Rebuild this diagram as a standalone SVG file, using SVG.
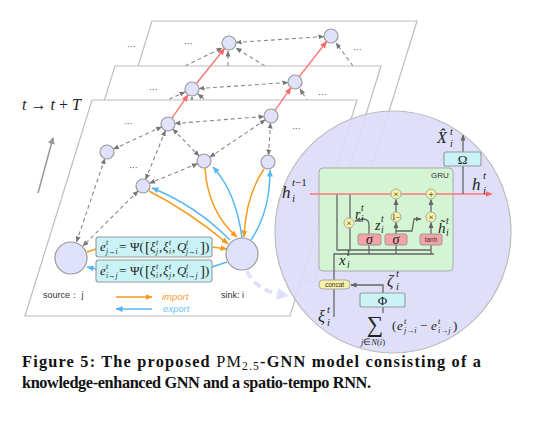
<svg xmlns="http://www.w3.org/2000/svg" width="554" height="432" viewBox="0 0 554 432">
<defs>
<style>
.plane{fill:#fff;stroke:#bdbdbd;stroke-width:1.2}
.node{fill:#dfe2fa;stroke:#9a9a9a;stroke-width:1.2}
.dash{fill:none;stroke:#888;stroke-width:1.1;stroke-dasharray:4 3;marker-start:url(#ag);marker-end:url(#ag)}
.dash1{fill:none;stroke:#888;stroke-width:1.1;stroke-dasharray:4 3;marker-end:url(#ag)}
.red{fill:none;stroke:#f77;stroke-width:1.4;marker-end:url(#ar)}
.or{fill:none;stroke:#f99a1c;stroke-width:1.5;marker-end:url(#ao)}
.bl{fill:none;stroke:#55b8f3;stroke-width:1.5;marker-end:url(#ab)}
.orn{fill:none;stroke:#f99a1c;stroke-width:1.5}
.bln{fill:none;stroke:#55b8f3;stroke-width:1.5}
.dots{font-family:"DejaVu Sans",sans-serif;font-size:9px;fill:#555}
.m{font-family:"Liberation Serif",serif;font-style:italic;fill:#222}
.u{font-family:"Liberation Serif",serif;fill:#222}
.s{font-family:"Liberation Sans",Arial,sans-serif;fill:#333}
.eq{fill:#c9f3f7;stroke:#999;stroke-width:1.1}
.gl{fill:none;stroke:#666;stroke-width:1.3}
.gla{fill:none;stroke:#666;stroke-width:1.3;marker-end:url(#ad)}
.op{fill:#f9f1a6;stroke:#aaa;stroke-width:1}
.gate{fill:#f4a4a6;stroke:#999;stroke-width:1}
</style>
<marker id="ag" markerUnits="userSpaceOnUse" markerWidth="6" markerHeight="6" refX="5.5" refY="3" orient="auto-start-reverse"><path d="M0,0.5 L6,3 L0,5.5 z" fill="#777"/></marker>
<marker id="ar" markerUnits="userSpaceOnUse" markerWidth="7" markerHeight="7" refX="6.5" refY="3.5" orient="auto"><path d="M0,0.5 L7,3.5 L0,6.5 z" fill="#f66"/></marker>
<marker id="ao" markerUnits="userSpaceOnUse" markerWidth="7" markerHeight="7" refX="6.5" refY="3.5" orient="auto"><path d="M0,0.5 L7,3.5 L0,6.5 z" fill="#f99a1c"/></marker>
<marker id="ab" markerUnits="userSpaceOnUse" markerWidth="7" markerHeight="7" refX="6.5" refY="3.5" orient="auto"><path d="M0,0.5 L7,3.5 L0,6.5 z" fill="#55b8f3"/></marker>
<marker id="ad" markerUnits="userSpaceOnUse" markerWidth="6" markerHeight="6" refX="5.5" refY="3" orient="auto"><path d="M0,0.5 L6,3 L0,5.5 z" fill="#666"/></marker>
<marker id="agr" markerUnits="userSpaceOnUse" markerWidth="7" markerHeight="8" refX="6" refY="4" orient="auto"><path d="M0,0.5 L7,4 L0,7.5 z" fill="#999"/></marker>
<marker id="al" markerUnits="userSpaceOnUse" markerWidth="12" markerHeight="12" refX="6" refY="6" orient="auto"><path d="M0,0 L12,6 L0,12 z" fill="#dfe1fb"/></marker>
</defs>

<!-- time label -->
<g id="time">
<text class="m" x="22" y="110" font-size="16">t <tspan font-style="normal">→</tspan> t <tspan font-style="normal">+</tspan> T</text>
<line x1="38" y1="193" x2="53" y2="138" stroke="#999" stroke-width="1.5" marker-end="url(#agr)"/>
</g>

<!-- back plane -->
<g id="plane-back">
<polygon class="plane" points="152,21 417,21 350,237 85,237"/>
<text class="dots" x="127" y="50">···</text>
<text class="dots" x="184" y="47">···</text>
<text class="dots" x="353" y="53">···</text>
</g>
<g id="edges-back">
<line class="dash" x1="236" y1="42.5" x2="324" y2="36.5"/>
<line class="dash1" x1="185" y1="66" x2="222" y2="48"/>
<line class="dash1" x1="228" y1="66" x2="228" y2="51"/>
<line class="dash1" x1="265" y1="66" x2="236" y2="48"/>
<line class="dash1" x1="353" y1="66" x2="336" y2="43"/>
</g>
<g id="node-b1"><circle class="node" cx="229" cy="43" r="7"/></g>
<g id="node-b2"><circle class="node" cx="331" cy="36" r="7"/></g>

<!-- middle plane -->
<g id="plane-mid">
<polygon class="plane" points="115,66 381,66 314,282 48,282"/>
<text class="dots" x="149" y="93">···</text>
<text class="dots" x="318" y="98">···</text>
</g>
<g id="edges-mid">
<line class="dash" x1="199" y1="88.5" x2="288" y2="82.5"/>
<line class="dash1" x1="150" y1="108" x2="185" y2="92"/>
<line class="dash1" x1="192" y1="106" x2="192" y2="97"/>
<line class="dash1" x1="215" y1="108" x2="198" y2="94"/>
<line class="dash1" x1="312" y1="108" x2="300" y2="89"/>
</g>
<g id="node-m1"><circle class="node" cx="192" cy="89" r="7"/></g>
<g id="node-m2"><circle class="node" cx="295" cy="82" r="7"/></g>

<!-- front plane -->
<g id="plane-front">
<polygon class="plane" points="92,100 357,100 290,316 25,316"/>
<text class="dots" x="124" y="127">···</text>
<text class="dots" x="129" y="171">···</text>
<text class="dots" x="292" y="132">···</text>
</g>

<!-- connectors -->
<g id="connectors">
<line class="dash" x1="175" y1="123.5" x2="264" y2="116.5"/>
<line class="dash" x1="161.6" y1="126.9" x2="113.4" y2="149.1"/>
<line class="dash" x1="172.9" y1="129" x2="199.1" y2="156"/>
<line class="dash" x1="265.2" y1="119.9" x2="209.8" y2="157.1"/>
<line class="dash" x1="270.5" y1="123" x2="268.5" y2="155"/>
<line class="dash" x1="165.4" y1="130.5" x2="145.6" y2="179.5"/>
<line class="dash" x1="197.5" y1="163.7" x2="149.5" y2="183.3"/>
<line class="dash" x1="104.8" y1="158.6" x2="76.5" y2="241.9"/>
<line class="dash" x1="138" y1="191" x2="83" y2="246"/>

<path class="or" d="M149,191 Q190,212 228,244"/>
<path class="bl" d="M230,240 Q195,205 152,188"/>
<path class="or" d="M205,168 Q208,212 237,237"/>
<path class="bl" d="M242,238 Q236,192 213,167"/>
<path class="or" d="M264,169 Q246,195 244,237"/>
<path class="bl" d="M251,240 Q270,212 270,170"/>

<path class="orn" d="M87,252 L96,249"/>
<path class="or" d="M212,247 L227,249"/>
<path class="bln" d="M227,262 L212,267"/>
<path class="bl" d="M96,269 L87,267"/>

<line class="red" x1="172" y1="118.2" x2="188" y2="94.8"/>
<line class="red" x1="196.4" y1="83.5" x2="224.6" y2="48.5"/>
<line class="red" x1="275" y1="110.3" x2="291" y2="87.7"/>
<line class="red" x1="299.3" y1="76.5" x2="326.7" y2="41.5"/>
</g>

<g id="node-n1"><circle class="node" cx="168" cy="124" r="7"/></g>
<g id="node-n2"><circle class="node" cx="204" cy="161" r="7"/></g>
<g id="node-n3"><circle class="node" cx="107" cy="152" r="7"/></g>
<g id="node-n4"><circle class="node" cx="271" cy="116" r="7"/></g>
<g id="node-n5"><circle class="node" cx="268" cy="162" r="7"/></g>
<g id="node-n6"><circle class="node" cx="143" cy="186" r="7"/></g>
<g id="node-source"><circle class="node" cx="71" cy="258" r="16"/><text class="s" x="43" y="298" font-size="9">source： j</text></g>
<g id="node-sink"><circle class="node" cx="242" cy="254" r="16"/><text class="s" x="221" y="298" font-size="9">sink: i</text></g>

<g id="eq1">
<rect class="eq" x="96" y="237" width="116" height="20" rx="2.5"/>
<text class="m" font-size="13"><tspan x="100" y="251">e</tspan><tspan x="106" y="245" font-size="8">t</tspan><tspan x="106" y="254" font-size="7.5">j→i</tspan><tspan x="119" y="251" font-style="normal">=</tspan><tspan x="130" y="251" font-style="normal">Ψ(</tspan><tspan x="145" y="252" font-style="normal" font-size="15">[</tspan><tspan x="150" y="251">ξ</tspan><tspan x="156" y="245" font-size="8">t</tspan><tspan x="156" y="254" font-size="7.5">j</tspan><tspan x="159" y="251" font-style="normal">,</tspan><tspan x="163" y="251">ξ</tspan><tspan x="169" y="245" font-size="8">t</tspan><tspan x="169" y="254" font-size="7.5">i</tspan><tspan x="172" y="251" font-style="normal">,</tspan><tspan x="177" y="251">Q</tspan><tspan x="186" y="245" font-size="8">t</tspan><tspan x="186" y="254" font-size="7.5">j→i</tspan><tspan x="200" y="252" font-style="normal" font-size="15">]</tspan><tspan x="205" y="251" font-style="normal">)</tspan></text>
</g>
<g id="eq2">
<rect class="eq" x="96" y="260" width="116" height="22" rx="2.5"/>
<text class="m" font-size="13"><tspan x="100" y="275">e</tspan><tspan x="106" y="269" font-size="8">t</tspan><tspan x="106" y="278" font-size="7.5">i→j</tspan><tspan x="119" y="275" font-style="normal">=</tspan><tspan x="130" y="275" font-style="normal">Ψ(</tspan><tspan x="145" y="276" font-style="normal" font-size="15">[</tspan><tspan x="150" y="275">ξ</tspan><tspan x="156" y="269" font-size="8">t</tspan><tspan x="156" y="278" font-size="7.5">i</tspan><tspan x="159" y="275" font-style="normal">,</tspan><tspan x="163" y="275">ξ</tspan><tspan x="169" y="269" font-size="8">t</tspan><tspan x="169" y="278" font-size="7.5">j</tspan><tspan x="172" y="275" font-style="normal">,</tspan><tspan x="177" y="275">Q</tspan><tspan x="186" y="269" font-size="8">t</tspan><tspan x="186" y="278" font-size="7.5">i→j</tspan><tspan x="200" y="276" font-style="normal" font-size="15">]</tspan><tspan x="205" y="275" font-style="normal">)</tspan></text>
</g>

<g id="legend">
<line class="or" x1="116" y1="297" x2="152" y2="297"/>
<text class="s" x="162" y="300" font-size="9.5" font-style="italic" style="fill:#f7a030">import</text>
<line class="bl" x1="152" y1="309" x2="116" y2="309"/>
<text class="s" x="163" y="312" font-size="9.5" font-style="italic" style="fill:#6cc3f5">export</text>
</g>

<!-- zoom arrow -->
<path d="M247,271 Q255,290 283,295" fill="none" stroke="#dfe1fb" stroke-width="4" stroke-dasharray="8 5" marker-end="url(#al)"/>

<!-- RNN circle -->
<g id="rnn">
<ellipse cx="393" cy="232" rx="118" ry="121" fill="#dcdcfa" fill-opacity="0.9" stroke="#bbb" stroke-width="1.2"/>
<rect x="319" y="168" width="134" height="103" rx="4" fill="#d3f5d3" stroke="#aaa" stroke-width="1"/>
<text class="s" x="440" y="178" font-size="8" text-anchor="middle">GRU</text>

<polyline class="gl" points="337,194 337,250 431,250"/>
<polyline class="gl" points="334,317 334,289"/>
<polyline class="gl" points="334,280 334,254 434,254"/>
<line class="gl" x1="350" y1="194" x2="350" y2="250"/>
<line class="gl" x1="369" y1="245" x2="369" y2="254"/>
<line class="gl" x1="396" y1="245" x2="396" y2="254"/>
<line class="gl" x1="431" y1="245" x2="431" y2="254"/>
<path class="gla" d="M369,234 L369,225 Q369,219 363,219 L355,221"/>
<line class="gla" x1="396" y1="234" x2="396" y2="222.5"/>
<path class="gla" d="M396,231 L412,231 L414,219 L421,219"/>
<line class="gla" x1="431" y1="234" x2="431" y2="222.5"/>
<line class="gla" x1="431" y1="212" x2="431" y2="199.5"/>
<line class="gla" x1="396" y1="212" x2="396" y2="199.5"/>
<line x1="310" y1="194" x2="492" y2="194" stroke="#f77" stroke-width="1.4" marker-end="url(#ar)"/>
<line class="gl" x1="463" y1="194" x2="463" y2="166"/>
<line class="gla" x1="463" y1="152" x2="463" y2="135"/>
<polyline class="gla" points="383,293 383,285 351,285"/>
<line class="gl" x1="383" y1="307" x2="383" y2="313"/>

<circle class="op" cx="396" cy="194" r="5"/><text class="u" x="396" y="197" font-size="9" text-anchor="middle">×</text>
<circle class="op" cx="431" cy="194" r="5"/><text class="u" x="431" y="197.5" font-size="10" text-anchor="middle">+</text>
<circle class="op" cx="396" cy="217" r="5"/><text class="u" x="396" y="220" font-size="8" text-anchor="middle">1−</text>
<circle class="op" cx="431" cy="217" r="5"/><text class="u" x="431" y="220" font-size="9" text-anchor="middle">×</text>
<circle class="op" cx="349" cy="223" r="5"/><text class="u" x="349" y="226" font-size="9" text-anchor="middle">×</text>

<rect class="gate" x="358" y="234" width="23" height="11" rx="2"/><text class="m" x="369.5" y="244" font-size="14" text-anchor="middle">σ</text>
<rect class="gate" x="385" y="234" width="22" height="11" rx="2"/><text class="m" x="396" y="244" font-size="14" text-anchor="middle">σ</text>
<rect class="gate" x="420" y="234" width="22" height="11" rx="2"/><text class="s" x="431" y="242" font-size="6.5" text-anchor="middle">tanh</text>

<rect class="eq" x="444" y="152" width="37" height="14" rx="2"/><text class="u" x="462.5" y="164" font-size="13" text-anchor="middle">Ω</text>
<rect class="eq" x="360" y="293" width="45" height="14" rx="2"/><text class="u" x="382.5" y="305" font-size="13" text-anchor="middle">Φ</text>
<rect x="319" y="280" width="31" height="9" rx="4" fill="#f9f1a6" stroke="#aaa" stroke-width="1"/><text class="s" x="334.5" y="287" font-size="6.5" text-anchor="middle">concat</text>

<text class="m" x="282" y="198" font-size="17">h</text><text class="u" x="292" y="186" font-size="11"><tspan font-style="italic">t</tspan>−1</text><text class="m" x="292" y="202" font-size="11">i</text>
<text class="m" x="472" y="190" font-size="17">h</text><text class="m" x="483" y="179" font-size="11">t</text><text class="m" x="483" y="194" font-size="11">i</text>
<text class="m" x="437" y="143" font-size="16">X̂</text><text class="m" x="450" y="135" font-size="10">t</text><text class="m" x="450" y="147" font-size="10">i</text>
<text class="m" x="355" y="219" font-size="14">r</text><text class="m" x="361" y="211" font-size="9.5">t</text><text class="m" x="361" y="222" font-size="9.5">i</text>
<text class="m" x="375" y="230" font-size="14">z</text><text class="m" x="381" y="222" font-size="9.5">t</text><text class="m" x="381" y="233" font-size="9.5">i</text>
<text class="m" x="438" y="233" font-size="15">h̃</text><text class="m" x="446" y="224" font-size="9.5">t</text><text class="m" x="446" y="236" font-size="9.5">i</text>
<text class="m" x="339" y="265" font-size="15">x</text><text class="m" x="347" y="256" font-size="9.5">t</text><text class="m" x="347" y="268" font-size="9.5">i</text>
<text class="m" x="387" y="286" font-size="16">ζ</text><text class="m" x="396" y="277" font-size="10.5">t</text><text class="m" x="396" y="290" font-size="10.5">i</text>
<text class="m" x="318" y="322" font-size="16">ξ</text><text class="m" x="327" y="313" font-size="10.5">t</text><text class="m" x="327" y="326" font-size="10.5">i</text>
<text class="u" x="375" y="332" font-size="23" text-anchor="middle">∑</text>
<text class="m" x="373" y="345" font-size="8.5" text-anchor="middle">j<tspan font-style="normal">∈</tspan>N<tspan font-style="normal">(</tspan>i<tspan font-style="normal">)</tspan></text>
<text class="u" font-size="13"><tspan x="392" y="330">(</tspan><tspan x="397" y="330" font-style="italic">e</tspan><tspan x="404" y="324" font-size="8.5" font-style="italic">t</tspan><tspan x="404" y="333" font-size="8" font-style="italic">j→i</tspan><tspan x="420" y="330">−</tspan><tspan x="431" y="330" font-style="italic">e</tspan><tspan x="438" y="324" font-size="8.5" font-style="italic">t</tspan><tspan x="438" y="333" font-size="8" font-style="italic">i→j</tspan><tspan x="453" y="330">)</tspan></text>
</g>

<g id="caption">
<text x="22" y="367" font-family="Liberation Serif,serif" font-size="16.3" font-weight="bold" fill="#111" textLength="459" lengthAdjust="spacing">Figure 5: The proposed <tspan font-weight="normal">PM</tspan><tspan font-weight="normal" font-size="11.5" dy="3">2.5</tspan><tspan dy="-3">-GNN model consisting of a</tspan></text>
<text x="22" y="388" font-family="Liberation Serif,serif" font-size="16.3" font-weight="bold" fill="#111" textLength="349" lengthAdjust="spacing">knowledge-enhanced GNN and a spatio-tempo RNN.</text>
</g>
</svg>
